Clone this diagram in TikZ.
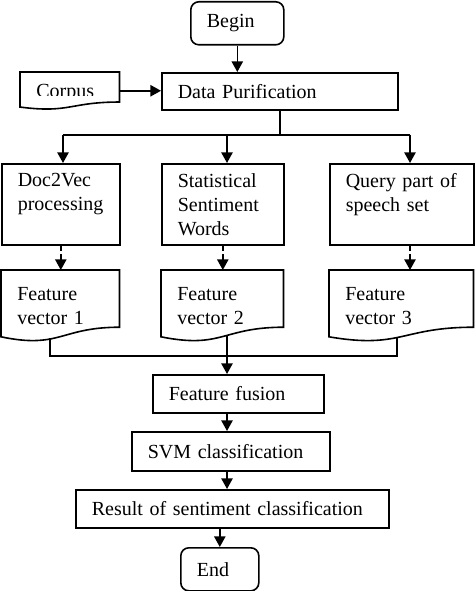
\documentclass[tikz,border=0pt]{standalone}
\usepackage{fontspec}
\setmainfont{Liberation Serif}
\usetikzlibrary{arrows.meta,calc}

\tikzset{
  flowbox/.style={draw, line width=1.2pt, anchor=north west, inner xsep=12pt, inner ysep=0pt, align=left, font=\fontsize{15}{18}\selectfont},
  docbox/.style={anchor=north west, inner xsep=12pt, inner ysep=0pt, align=left, font=\fontsize{15}{18}\selectfont},
  flowarrow/.style={line width=1.2pt, -{Triangle[length=8pt,width=8.5pt]}},
  dasharrow/.style={flowarrow, dash pattern=on 4pt off 2.5pt},
  flowline/.style={line width=1.2pt}
}
% outline of a document shape round a named node
\newcommand\docpath[1]{\draw[flowline] (#1.north west) -- (#1.north east) -- ($(#1.north east)!0.80!(#1.south east)$) .. controls ($(#1.north)!0.80!(#1.south)$) and ($(#1.north)!1.107!(#1.south)$) .. ($(#1.north west)!0.934!(#1.south west)$) -- cycle;}

\begin{document}
\begin{tikzpicture}[x=0.75pt,y=0.75pt,yscale=-1,xscale=1]
  \useasboundingbox (0,0) rectangle (474,591);

  % Start and end
  \node[flowbox, rounded corners=6pt, text width=45.75pt, minimum height=32.25pt] (begin) at (190,1) {Begin};
  \node[flowbox, rounded corners=6pt, text width=34.5pt, minimum height=32.25pt] (end) at (180,547) {End};

  % Corpus (text cut by the wave)
  \begin{scope}
    \clip (0,0) rectangle (474,96);
    \node[docbox, text width=50.25pt, minimum height=27.75pt, text height=10pt, text depth=0pt] (corpus) at (20,72) {Corpus};
  \end{scope}
  \docpath{corpus}

  % Process boxes
  \node[flowbox, text width=153pt, minimum height=27.75pt] (purif) at (161,72) {Data Purification};
  \node[flowbox, text width=64.5pt, minimum height=60.75pt] (doc2vec) at (1,163) {Doc2Vec\\processing\\\mbox{}};
  \node[flowbox, text width=67.5pt, minimum height=60.75pt] (stat) at (161,163) {Statistical\\Sentiment\\Words};
  \node[flowbox, text width=84pt, minimum height=60.75pt] (query) at (329,163) {Query part of\\speech set\\\mbox{}};
  \node[flowbox, text width=104.25pt, minimum height=28.5pt] (fusion) at (152,374) {Feature fusion};
  \node[flowbox, text width=124.5pt, minimum height=29.25pt] (svm) at (131,431) {SVM classification};
  \node[flowbox, text width=210.75pt, minimum height=28.5pt] (result) at (75,489) {Result of sentiment classification};

  % Feature vectors
  \node[docbox, text width=64.5pt, minimum height=53.25pt] (fv1) at (1,270) {Feature\\vector 1};
  \node[docbox, text width=67.5pt, minimum height=53.25pt] (fv2) at (161,270) {Feature\\vector 2};
  \node[docbox, text width=84pt, minimum height=53.25pt] (fv3) at (329,270) {Feature\\vector 3};
  \docpath{fv1}
  \docpath{fv2}
  \docpath{fv3}

  % Bus and join points
  \coordinate (busL) at (63,135);
  \coordinate (busM) at (227,135);
  \coordinate (busR) at (410,135);
  \coordinate (fv1b) at (50,338);
  \coordinate (fv2b) at (227,336);
  \coordinate (fv3b) at (397,337);
  \coordinate (joinL) at (50,356);
  \coordinate (joinM) at (227,356);
  \coordinate (joinR) at (397,356);

  % Connectors
  \draw[flowarrow] (begin.south) -- (begin.south |- purif.north);
  \draw[flowarrow] (corpus.east) -- (corpus.east -| purif.west);
  \draw[flowline] (purif.south) -- (purif.south |- busL);
  \draw[flowline] (busL) -- (busR);
  \draw[flowarrow] (busL) -- (busL |- doc2vec.north);
  \draw[flowarrow] (busM) -- (busM |- stat.north);
  \draw[flowarrow] (busR) -- (busR |- query.north);

  \draw[dasharrow] (doc2vec.south) -- (doc2vec.south |- fv1.north);
  \draw[dasharrow] (stat.south) -- (stat.south |- fv2.north);
  \draw[dasharrow] (busR |- query.south) -- (busR |- fv3.north);

  \draw[flowline] (fv1b) -- (joinL) -- (joinR) -- (fv3b);
  \draw[flowline] (fv2b) -- (joinM);
  \draw[flowarrow] (joinM) -- (joinM |- fusion.north);
  \draw[flowarrow] (joinM |- fusion.south) -- (joinM |- svm.north);
  \draw[flowarrow] (joinM |- svm.south) -- (joinM |- result.north);
  \draw[flowarrow] (end.north |- result.south) -- (end.north);

\end{tikzpicture}
\end{document}
